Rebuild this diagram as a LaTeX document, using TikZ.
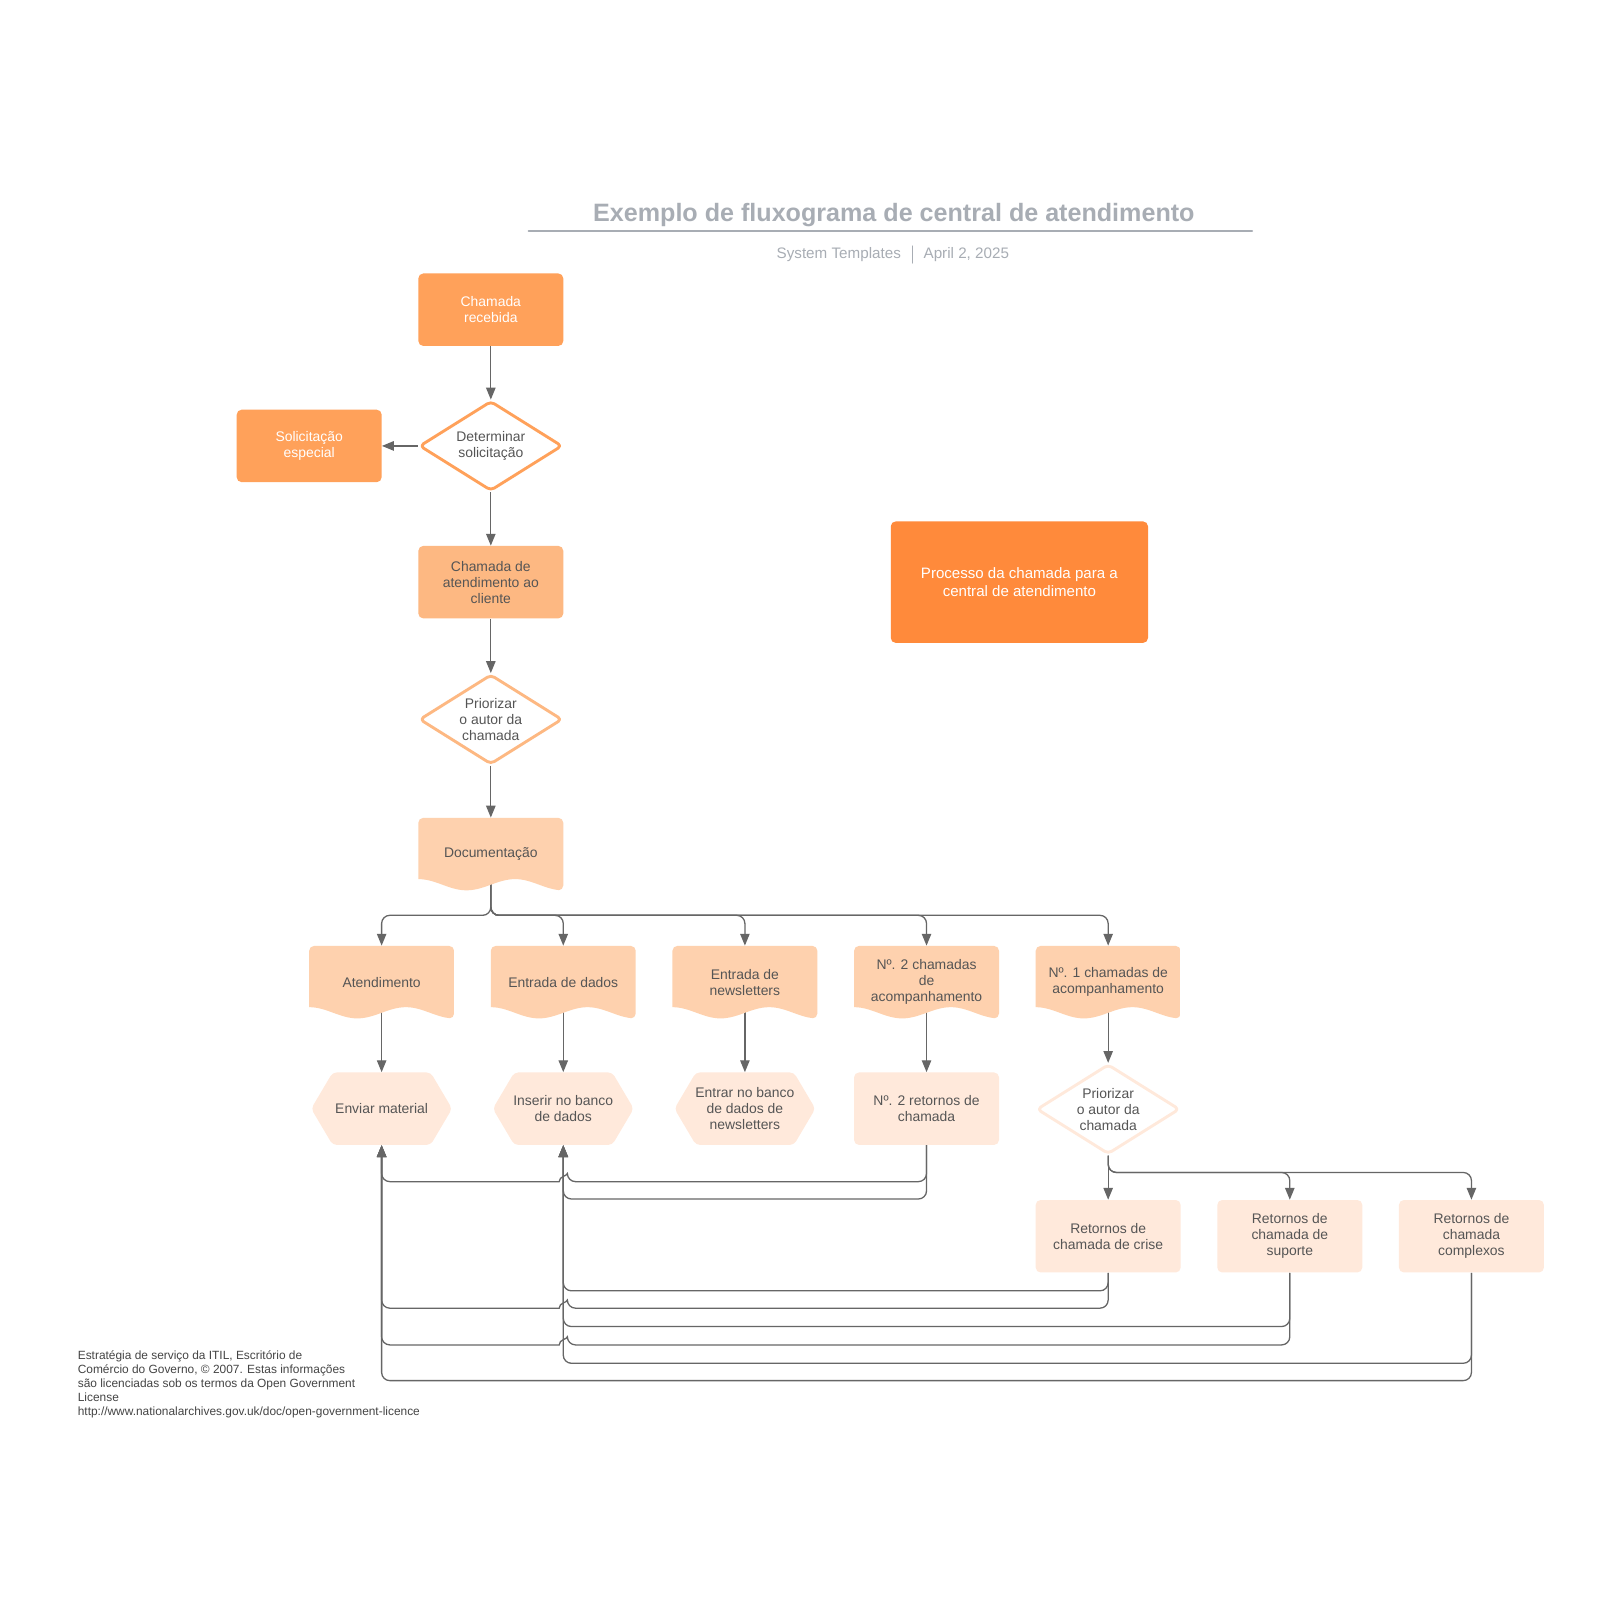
\documentclass[tikz,border=0pt]{standalone}
\usepackage{fontspec}
\setmainfont{Liberation Sans}
\usepackage{tikz}
\usetikzlibrary{arrows.meta}
\usetikzlibrary{shapes.geometric}
\usetikzlibrary{calc}
\usetikzlibrary{backgrounds}
\definecolor{Laranja}{HTML}{FFA15A}
\definecolor{LaranjaForte}{HTML}{FF8A3B}
\definecolor{LaranjaMedio}{HTML}{FDB882}
\definecolor{Pessego}{HTML}{FED1AE}
\definecolor{PessegoClaro}{HTML}{FFE9DB}
\definecolor{TextoCinza}{HTML}{555555}
\definecolor{LinhaCinza}{HTML}{666666}
\definecolor{TituloCinza}{HTML}{A8ADB4}
\definecolor{NotaCinza}{HTML}{444444}

\begin{document}
\begin{tikzpicture}[line cap=round,line join=round,>={Triangle[length=2.9mm,width=2.3mm]},x=0.025cm,y=-0.025cm,
txt/.style={font=\fontsize{9.7}{11.2}\selectfont,align=center,text=TextoCinza},
caixa/.style={txt,rectangle,rounded corners=1.2mm,minimum width=35.5mm,minimum height=17.75mm,inner sep=1pt},
decisao/.style={txt,diamond,aspect=1.6,fill=white,line width=2pt,rounded corners=1mm,minimum width=35mm,minimum height=22mm,inner sep=0pt},
documento/.style={caixa,path picture={
\path (path picture bounding box.south west) coordinate (psw)
(path picture bounding box.south east) coordinate (pse)
(path picture bounding box.north west) coordinate (pnw)
(path picture bounding box.north east) coordinate (pne);
\fill[Pessego,sharp corners] ([yshift=2.75mm]psw) -- (pnw) -- (pne) -- (pse)
.. controls ([xshift=-4.3mm]pse) and ([xshift=-7.5mm,yshift=2.75mm]pse) .. ([xshift=-11.8mm,yshift=2.75mm]pse)
.. controls ([xshift=-16.1mm,yshift=2.75mm]pse) and ([xshift=-19.4mm]pse) .. ([xshift=-23.7mm]pse)
.. controls ([xshift=-28mm]pse) and ([xshift=-31.2mm,yshift=2.75mm]pse) .. ([yshift=2.75mm]psw) -- cycle;}},
hexagono/.style={caixa,minimum width=34.5mm,path picture={
\path (path picture bounding box.south west) coordinate (psw)
(path picture bounding box.south east) coordinate (pse)
(path picture bounding box.north west) coordinate (pnw)
(path picture bounding box.north east) coordinate (pne);
\fill[PessegoClaro,rounded corners=1mm] (path picture bounding box.west) -- ([xshift=5.25mm]pnw) -- ([xshift=-5.25mm]pne)
-- (path picture bounding box.east) -- ([xshift=-5.25mm]pse) -- ([xshift=5.25mm]psw) -- cycle;}},
seta/.style={->,line width=0.9pt,draw=LinhaCinza,rounded corners=2mm}]
\useasboundingbox (0,0) rectangle (1568,1568);
% titulo
\node[font=\bfseries\fontsize{17.5}{21}\selectfont,text=TituloCinza] (titulo) at (876,211) {Exemplo de fluxograma de central de atendimento};
\draw[TituloCinza,line width=1.4pt] (518,226) -- (1227,226);
\node[font=\fontsize{10.6}{12.5}\selectfont,text=TituloCinza] (sistema) at (822,249) {System Templates};
\node[font=\fontsize{10.6}{12.5}\selectfont,text=TituloCinza] (data) at (947,249) {April 2, 2025};
\draw[TituloCinza,line width=0.6pt] (894,241) -- (894,258);
% coluna principal
\node[caixa,fill=Laranja,text=white] (recebida) at (481,303.5) {Chamada\\recebida};
\node[decisao,draw=Laranja] (determinar) at (481,437) {Determinar\\solicitação};
\node[caixa,fill=Laranja,text=white] (especial) at (303,437) {Solicitação\\especial};
\node[caixa,fill=LaranjaMedio] (cliente) at (481,570.5) {Chamada de\\atendimento ao\\cliente};
\node[decisao,draw=LaranjaMedio] (priorizar) at (481,705) {Priorizar\\o autor da\\chamada};
\node[documento] (docu) at (481,837) {Documentação};
\node[caixa,fill=LaranjaForte,text=white,minimum width=63mm,minimum height=29.75mm,font=\fontsize{10.5}{12.2}\selectfont] (processo) at (999,570.5) {Processo da chamada para a\\central de atendimento};
% documentos
\node[documento] (atend) at (374,962.5) {Atendimento};
\node[documento] (dados) at (552,962.5) {Entrada de dados};
\node[documento] (news) at (730,962.5) {Entrada de\\newsletters};
\node[documento] (acomp2) at (908,962.5) {Nº. 2 chamadas\\de\\acompanhamento};
\node[documento] (acomp1) at (1086,962.5) {Nº. 1 chamadas de\\acompanhamento};
% acoes
\node[hexagono] (enviar) at (374,1086.5) {Enviar material};
\node[hexagono] (inserir) at (552,1086.5) {Inserir no banco\\de dados};
\node[hexagono] (entrar) at (730,1086.5) {Entrar no banco\\de dados de\\newsletters};
\node[caixa,fill=PessegoClaro] (ret2) at (908,1086.5) {Nº. 2 retornos de\\chamada};
\node[decisao,draw=PessegoClaro] (prio2) at (1086,1087) {Priorizar\\o autor da\\chamada};
% retornos
\node[caixa,fill=PessegoClaro] (crise) at (1086,1211.5) {Retornos de\\chamada de crise};
\node[caixa,fill=PessegoClaro] (suporte) at (1264,1211.5) {Retornos de\\chamada de\\suporte};
\node[caixa,fill=PessegoClaro] (complexos) at (1442,1211.5) {Retornos de\\chamada\\complexos};
% nota
\node[anchor=north west,align=left,inner sep=0pt,font=\fontsize{8.3}{9.8}\selectfont,text=NotaCinza] (nota) at (76,1323) {Estratégia de serviço da ITIL, Escritório de\\Comércio do Governo, © 2007. Estas informações\\são licenciadas sob os termos da Open Government\\License\\http://www.nationalarchives.gov.uk/doc/open-government-licence};
\coordinate (leque) at (481,897);
\coordinate (leque2) at (1086,1149);
\begin{scope}[on background layer]
\fill[white] (0,0) rectangle (1568,1568);
\draw[seta] (recebida) -- (determinar);
\draw[seta] (determinar) -- (especial);
\draw[seta] (determinar) -- (cliente);
\draw[seta] (cliente) -- (priorizar);
\draw[seta] (priorizar) -- (docu);
\foreach \n in {atend,dados,news,acomp2,acomp1}
\draw[seta] (docu.center) -- (docu.center |- leque) -| (\n.north);
\foreach \a/\b in {atend/enviar,dados/inserir,news/entrar,acomp2/ret2,acomp1/prio2}
\draw[seta] (\a.center) -- (\b);
\draw[seta] (prio2) -- (crise);
\foreach \n in {suporte,complexos}
\draw[seta] (prio2.south) -- (prio2.south |- leque2) -| (\n.north);
% retornos sem salto
\foreach \s/\t/\y in {ret2/inserir/1175,crise/inserir/1265,suporte/inserir/1300,complexos/inserir/1336,complexos/enviar/1353}{
\coordinate (nivel) at (0,\y);
\draw[seta] (\s.south) -- (\s.south |- nivel) -- (\t.south |- nivel) -- (\t.south);}
% retornos com salto
\foreach \s/\y in {ret2/1158,crise/1282,suporte/1318}{
\coordinate (nivel) at (0,\y);
\coordinate (salto) at (inserir.south |- nivel);
\draw[seta] (\s.south) -- (\s.south |- nivel) -- ($(salto)+(4,0)$) [sharp corners] .. controls +(0,-5.5) and +(0,-5.5) .. ($(salto)+(-4,0)$) -- ($(salto)+(-5,0)$) [rounded corners=2mm] -- (enviar.south |- nivel) -- (enviar.south);}
\end{scope}
\end{tikzpicture}
\end{document}
